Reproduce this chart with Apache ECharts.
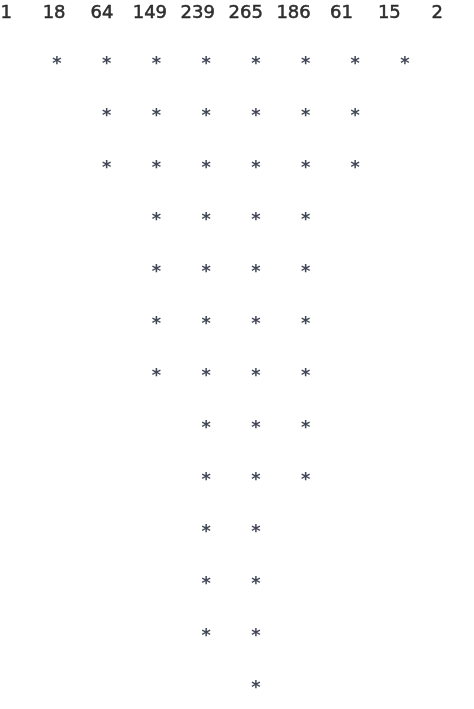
<!DOCTYPE html>
<html>
<head>
<meta charset="utf-8">
<script src="https://cdn.jsdelivr.net/npm/echarts@6/dist/echarts.min.js"></script>
<style>
html,body{margin:0;padding:0;background:#fff;}
#chart{width:474px;height:709px;}
</style>
</head>
<body>
<div id="chart"></div>
<script>
// Bin counts shown on the top row
const counts = [1, 18, 64, 149, 239, 265, 186, 61, 15, 2];
// Number of asterisks drawn under each count
const starCounts = [0, 1, 3, 7, 12, 13, 9, 3, 1, 0];

const labelData = counts.map((c, i) => [i, 0, c]);
const starData = [];
starCounts.forEach((n, i) => {
  for (let k = 1; k <= n; k++) starData.push([i, k]);
});

const chart = echarts.init(document.getElementById('chart'), null, {renderer: 'canvas'});
chart.setOption({
  animation: false,
  backgroundColor: '#ffffff',
  grid: {left: 0, right: 0, top: 0, bottom: 0},
  xAxis: [
    {type: 'value', min: -0.13, max: 9.768, show: false},
    {type: 'value', min: -0.147, max: 9.388, show: false}
  ],
  yAxis: {type: 'value', inverse: true, min: -0.1923, max: 13.442, show: false},
  series: [
    {
      type: 'scatter',
      xAxisIndex: 0,
      data: labelData,
      symbol: 'circle',
      symbolSize: 1,
      itemStyle: {color: 'rgba(0,0,0,0)'},
      label: {
        show: true,
        position: 'inside',
        offset: [0, 3],
        formatter: p => String(p.value[2]),
        fontFamily: 'DejaVu Sans',
        fontSize: 18,
        color: '#000000',
        textBorderColor: '#000000',
        textBorderWidth: 0.5
      }
    },
    {
      type: 'scatter',
      xAxisIndex: 1,
      data: starData,
      symbol: 'circle',
      symbolSize: 1,
      itemStyle: {color: 'rgba(0,0,0,0)'},
      label: {
        show: true,
        position: 'inside',
        offset: [0, 2],
        formatter: '*',
        fontFamily: 'DejaVu Sans Mono',
        fontWeight: 'bold',
        fontSize: 18,
        color: '#10182a'
      }
    }
  ]
});
</script>
</body>
</html>
